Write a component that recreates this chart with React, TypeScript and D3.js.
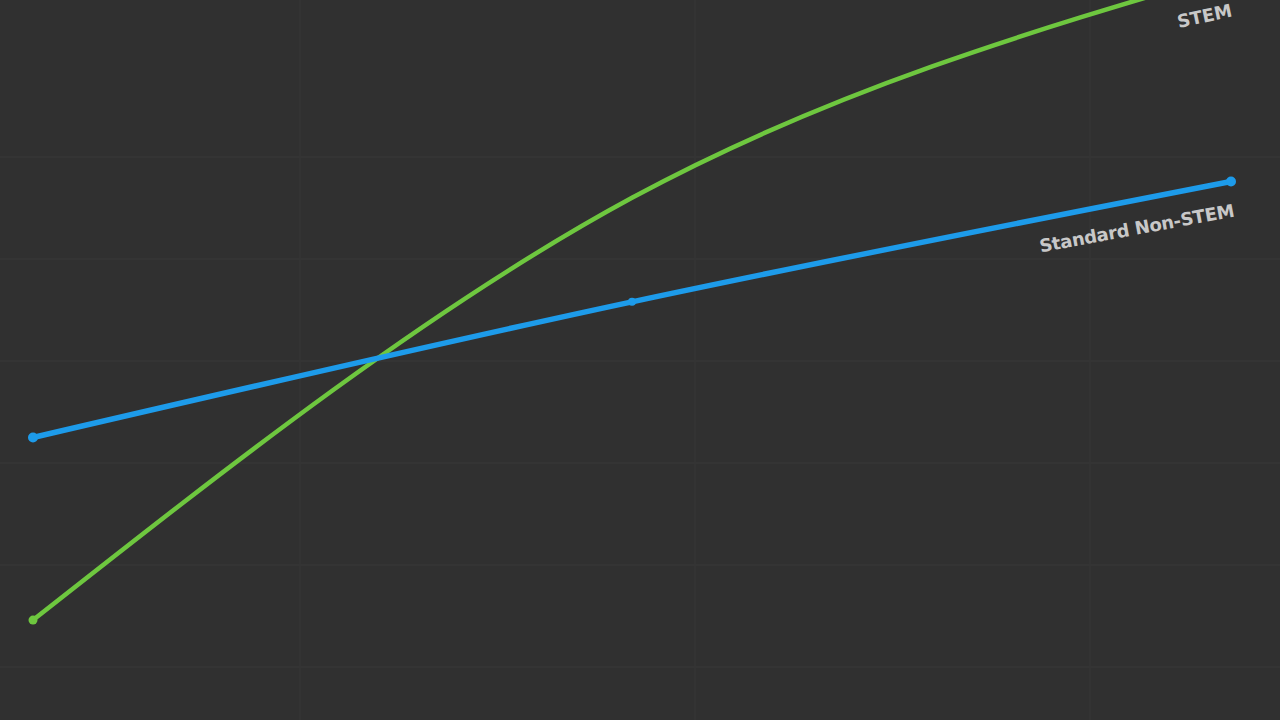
import React, { useEffect } from "react";
import * as d3 from "d3";

const categories = ["Start", "Mid", "End"];
const nonStemValues = [22.5, 35.8, 47.6];
const stemValues = [4.6, 46.0, 68.1];
const yTicks = [0, 10, 20, 30, 40, 50];
const xGridValues = [300, 695, 1090];
const seriesNames = ["Standard Non-STEM", "STEM"];

const W = 1280;
const H = 720;

export default function App() {
  useEffect(() => {
    document.body.style.margin = "0";
    document.body.style.background = "#303030";
  }, []);

  const x = d3.scalePoint<string>().domain(categories).range([33, 1231]);
  const y = d3.scaleLinear().domain([0, 50]).range([667, 157]);
  const gx = d3.scaleLinear().domain([0, W]).range([0, W]);

  const line = d3
    .line<number>()
    .x((_, i) => x(categories[i]) as number)
    .y((d) => y(d))
    .curve(d3.curveMonotoneX);

  const blue = "#1d9bea";
  const green = "#6ec73f";

  const lastX = x(categories[categories.length - 1]) as number;
  const blueEndY = y(nonStemValues[nonStemValues.length - 1]);
  const greenEndY = y(stemValues[stemValues.length - 1]);

  return (
    <svg
      width={W}
      height={H}
      style={{ position: "absolute", left: 0, top: 0, display: "block" }}
      xmlns="http://www.w3.org/2000/svg"
    >
      <rect x={0} y={0} width={W} height={H} fill="#303030" />
      {yTicks.map((t) => (
        <line
          key={"h" + t}
          x1={0}
          x2={W}
          y1={y(t)}
          y2={y(t)}
          stroke="#363636"
          strokeWidth={1.5}
        />
      ))}
      {xGridValues.map((v) => (
        <line
          key={"v" + v}
          x1={gx(v)}
          x2={gx(v)}
          y1={0}
          y2={H}
          stroke="#353535"
          strokeWidth={1.5}
        />
      ))}
      <path
        d={line(stemValues) || ""}
        fill="none"
        stroke={green}
        strokeWidth={4.5}
        strokeLinecap="round"
      />
      <path
        d={line(nonStemValues) || ""}
        fill="none"
        stroke={blue}
        strokeWidth={5.5}
        strokeLinecap="round"
      />
      {nonStemValues.map((v, i) => (
        <circle
          key={"b" + i}
          cx={x(categories[i]) as number}
          cy={y(v)}
          r={i === 1 ? 4 : 5}
          fill={blue}
        />
      ))}
      {stemValues.map((v, i) =>
        i === 1 ? null : (
          <circle
            key={"g" + i}
            cx={x(categories[i]) as number}
            cy={y(v)}
            r={4.5}
            fill={green}
          />
        )
      )}
      <text
        x={lastX + 4}
        y={blueEndY + 35}
        transform={`rotate(-10.5 ${lastX + 4} ${blueEndY + 35})`}
        textAnchor="end"
        fill="#c8c8c8"
        fontFamily="DejaVu Sans, sans-serif"
        fontSize={18}
        fontWeight="bold"
        letterSpacing={-0.3}
      >
        {seriesNames[0]}
      </text>
      <text
        x={lastX + 2}
        y={greenEndY + 44}
        transform={`rotate(-12 ${lastX + 2} ${greenEndY + 44})`}
        textAnchor="end"
        fill="#c8c8c8"
        fontFamily="DejaVu Sans, sans-serif"
        fontSize={18}
        fontWeight="bold"
      >
        {seriesNames[1]}
      </text>
    </svg>
  );
}
